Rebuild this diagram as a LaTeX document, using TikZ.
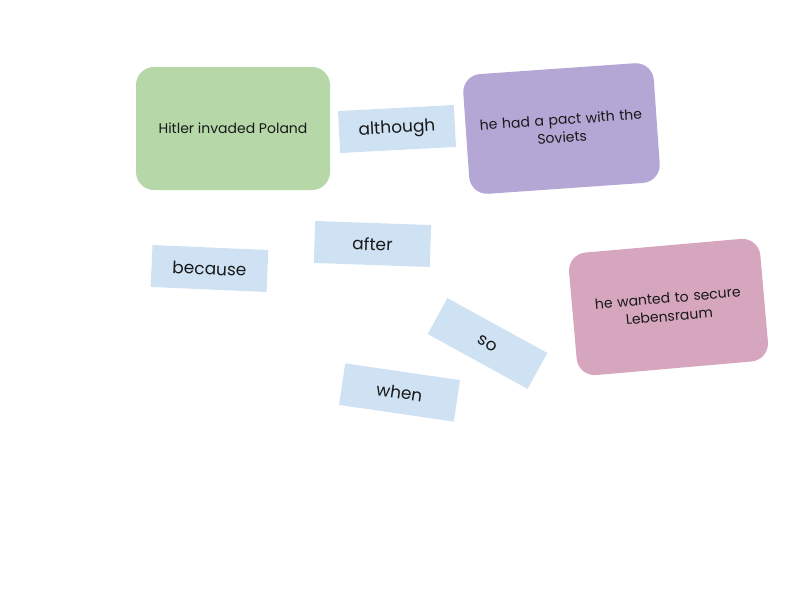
\documentclass[tikz,border=0pt]{standalone}
\usepackage{fontspec}
\setmainfont{Poppins}
\newfontfamily\tilefont{Poppins}
\definecolor{cardgreen}{HTML}{B6D7A8}
\definecolor{cardpurple}{HTML}{B4A7D6}
\definecolor{cardpink}{HTML}{D5A6BD}
\definecolor{tileblue}{HTML}{CFE2F3}
\begin{document}
\begin{tikzpicture}[x=1pt,y=-1pt,
  card/.style={fill=#1, draw=none, rounded corners=18pt, align=center,
    font=\fontsize{14}{18}\selectfont, text=black!90, inner sep=0pt},
  tile/.style={fill=tileblue, draw=none, minimum width=116pt, minimum height=42pt,
    inner sep=0pt, font=\tilefont\fontsize{17}{20}\selectfont, text=black!90}]
\useasboundingbox (0,0) rectangle (800,600);
\node[card=cardgreen, minimum width=194pt, minimum height=123pt] (hitler) at (233,128.5) {Hitler invaded Poland};
\node[card=cardpurple, minimum width=191pt, minimum height=120pt, text width=170pt, rotate=4] (pact) at (561.5,128.5) {he had a pact with the\\Soviets};
\node[card=cardpink, minimum width=192pt, minimum height=123pt, text width=170pt, rotate=5] (leb) at (668.5,307) {he wanted to secure\\Lebensraum};
\node[tile, rotate=3] (although) at (397,129) {although};
\node[tile, rotate=-2.5] (because) at (209.5,268.5) {because};
\node[tile, rotate=-2] (after) at (372.5,244) {after};
\node[tile, minimum width=114pt, minimum height=41pt, rotate=-28.8] (so) at (487.5,343.5) {so};
\node[tile, rotate=-8.3] (when) at (399.5,392.5) {when};
\end{tikzpicture}
\end{document}
